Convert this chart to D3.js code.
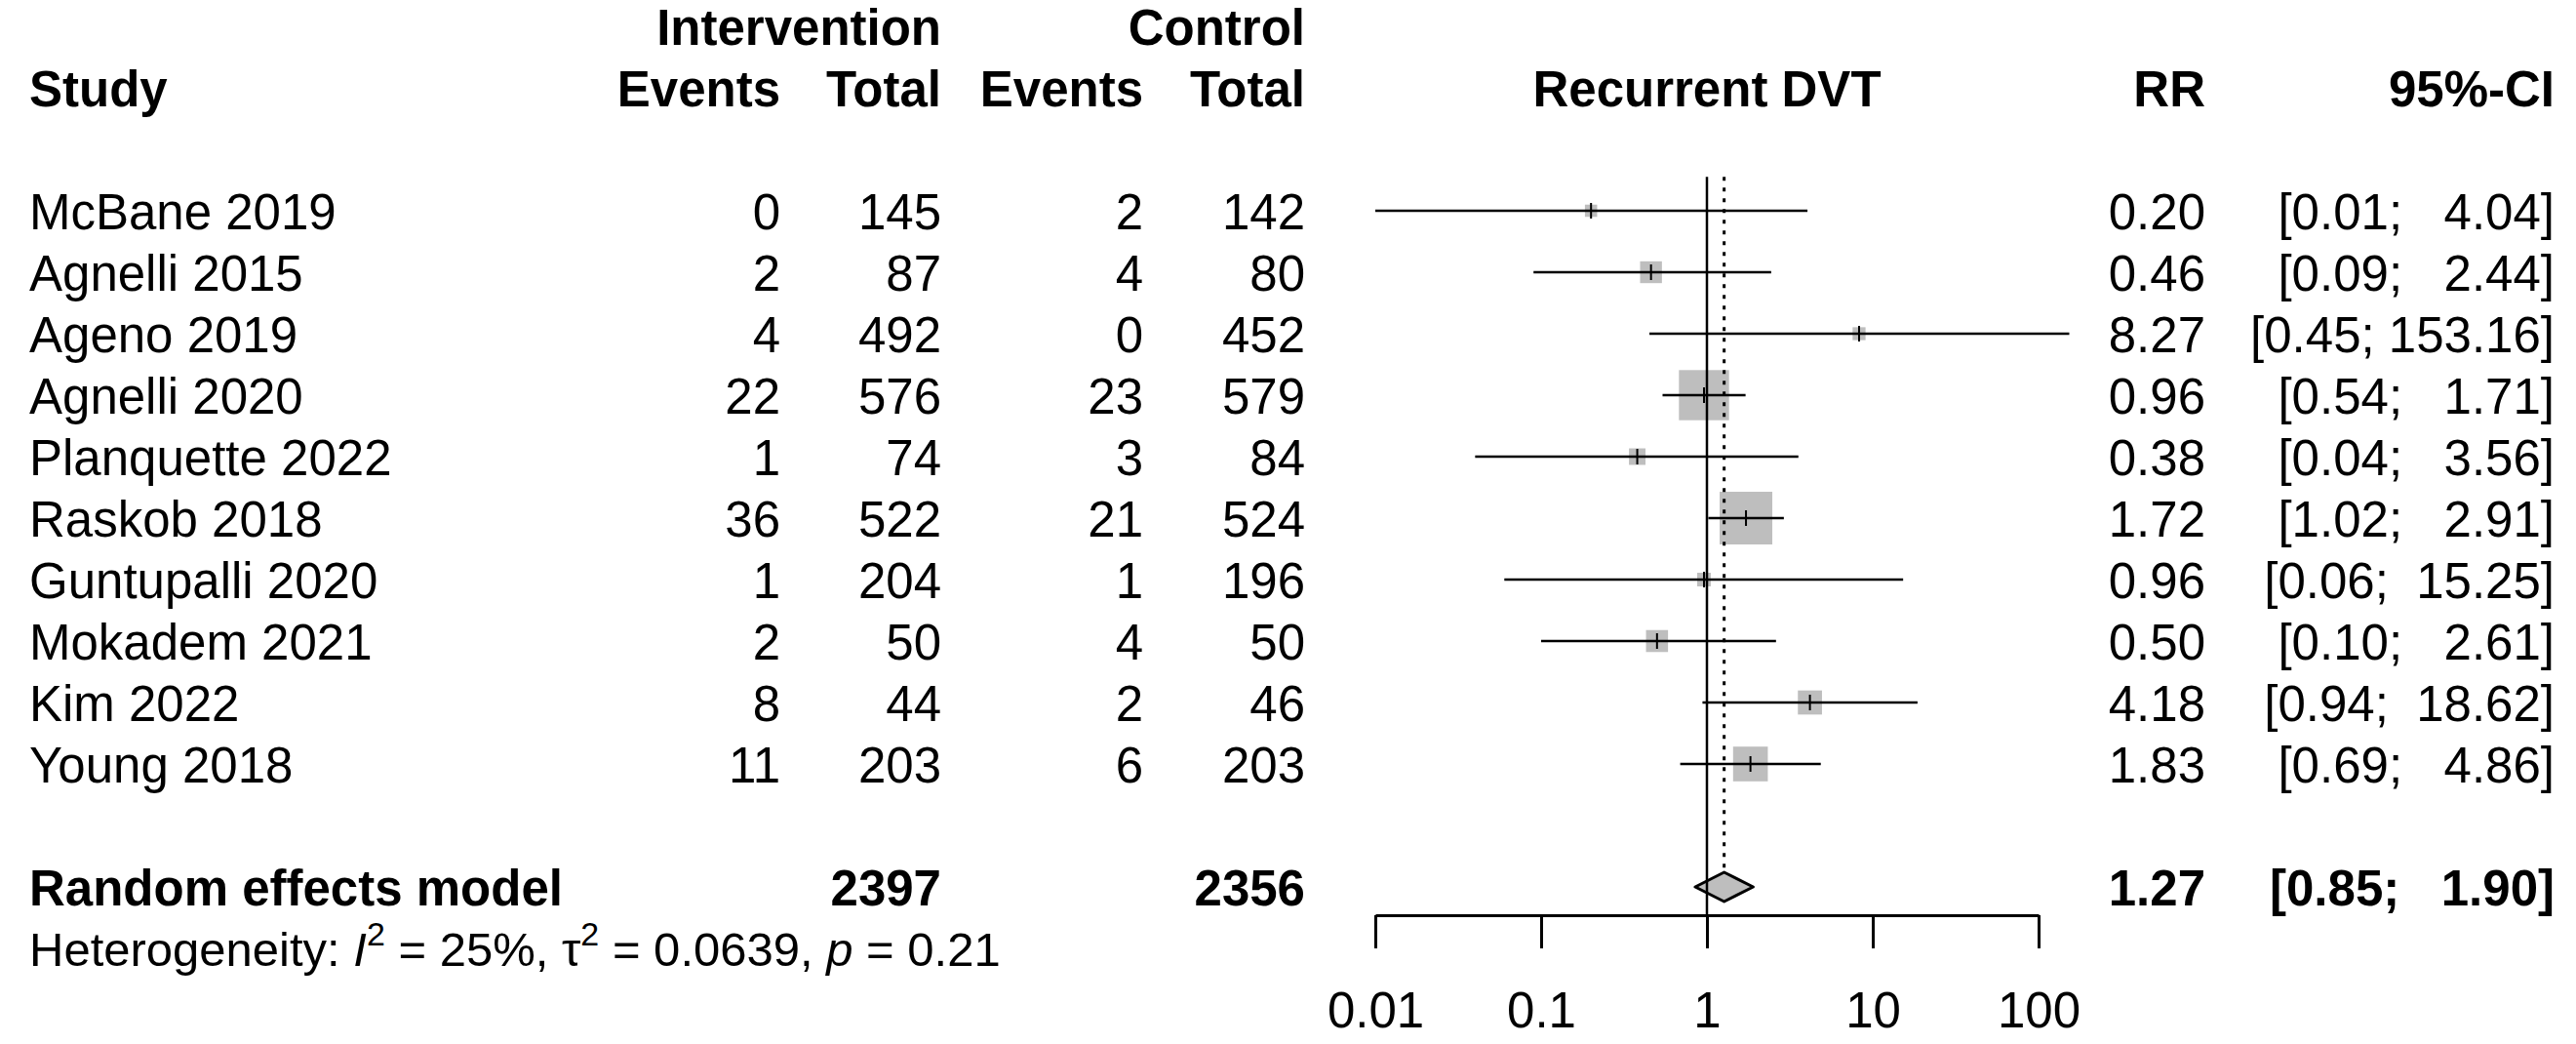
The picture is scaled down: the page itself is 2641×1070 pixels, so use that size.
<!DOCTYPE html>
<html>
<head>
<meta charset="utf-8">
<script src="https://cdnjs.cloudflare.com/ajax/libs/d3/7.8.5/d3.min.js"></script>
<style>
body { margin: 0; background: #fff; }
svg { font-family: "Liberation Sans", Arial, Helvetica, sans-serif; }
text { white-space: pre; fill: #000; }
</style>
</head>
<body>
<svg width="2641" height="1070"></svg>
<script>
// data
var studies = ["McBane 2019", "Agnelli 2015", "Ageno 2019", "Agnelli 2020", "Planquette 2022",
	"Raskob 2018", "Guntupalli 2020", "Mokadem 2021", "Kim 2022", "Young 2018"];
var eventsInt = [0, 2, 4, 22, 1, 36, 1, 2, 8, 11];
var totalInt = [145, 87, 492, 576, 74, 522, 204, 50, 44, 203];
var eventsCtl = [2, 4, 0, 23, 3, 21, 1, 4, 2, 6];
var totalCtl = [142, 80, 452, 579, 84, 524, 196, 50, 46, 203];
var rr = [0.20, 0.46, 8.27, 0.96, 0.38, 1.72, 0.96, 0.50, 4.18, 1.83];
var lower = [0.01, 0.09, 0.45, 0.54, 0.04, 1.02, 0.06, 0.10, 0.94, 0.69];
var upper = [4.04, 2.44, 153.16, 1.71, 3.56, 2.91, 15.25, 2.61, 18.62, 4.86];
// random effects weights (%), estimated from the square sizes
var weights = [1.7, 5.4, 1.9, 28.5, 3.1, 31.5, 2.1, 5.5, 6.6, 13.7];

var pooledTotals = [2397, 2356];
var pooledEstimate = [1.27, 0.85, 1.90]; // RR, lower, upper
var hetI2 = "25%", hetTau2 = "0.0639", hetP = "0.21";

var tickValues = [0.01, 0.1, 1, 10, 100];
var tickLabels = ["0.01", "0.1", "1", "10", "100"];

var svg = d3.select("svg"),
	fontSize = 51,
	axisY = 938;

// log scale for the risk ratios, linear scale for the text rows
var x = d3.scaleLog().domain([0.01, 100]).range([1410, 2090]),
	row = d3.scaleLinear().domain([0, 1]).range([216, 279]),
	size = d3.scaleSqrt().domain([0, d3.max(weights)]).range([0, 54]);

var col = {study: 30, evInt: 800, totInt: 965, evCtl: 1172, totCtl: 1338, rr: 2261, ci: 2619};

var fmt = d3.format(".2f");
var maxLen = d3.max(upper, function(d) { return fmt(d).length; });

function ciText(l, u) {
	return "[" + fmt(l) + ";" + " ".repeat(1 + maxLen - fmt(u).length) + fmt(u) + "]";
}

function label(x0, i, txt, anchor, bold) {
	return svg.append("text")
		.attr("x", x0)
		.attr("y", row(i))
		.attr("dy", "0.37em")
		.attr("text-anchor", anchor || "end")
		.attr("font-size", fontSize)
		.attr("font-weight", bold ? "bold" : "normal")
		.text(txt);
}

// headers
label(col.totInt, -3, "Intervention", "end", true);
label(col.totCtl, -3, "Control", "end", true);
label(col.study, -2, "Study", "start", true);
label(col.evInt, -2, "Events", "end", true);
label(col.totInt, -2, "Total", "end", true);
label(col.evCtl, -2, "Events", "end", true);
label(col.totCtl, -2, "Total", "end", true);
label(x(1), -2, "Recurrent DVT", "middle", true);
label(col.rr, -2, "RR", "end", true);
label(col.ci, -2, "95%-CI", "end", true);

// study rows
studies.forEach(function(s, i) {
	label(col.study, i, s, "start");
	label(col.evInt, i, eventsInt[i]);
	label(col.totInt, i, totalInt[i]);
	label(col.evCtl, i, eventsCtl[i]);
	label(col.totCtl, i, totalCtl[i]);
	label(col.rr, i, fmt(rr[i]));
	label(col.ci, i, ciText(lower[i], upper[i]));
});

// pooled row
label(col.study, 11, "Random effects model", "start", true);
label(col.totInt, 11, pooledTotals[0], "end", true);
label(col.totCtl, 11, pooledTotals[1], "end", true);
label(col.rr, 11, fmt(pooledEstimate[0]), "end", true);
label(col.ci, 11, ciText(pooledEstimate[1], pooledEstimate[2]), "end", true);

// heterogeneity line with italics and superscripts
var het = svg.append("text")
	.attr("x", col.study)
	.attr("y", row(12))
	.attr("dy", "0.37em")
	.attr("font-size", 49);
het.append("tspan").text("Heterogeneity: ");
het.append("tspan").attr("font-style", "italic").text("I");
het.append("tspan").attr("font-size", 34).attr("dy", -21).text("2");
het.append("tspan").attr("dy", 21).text(" = " + hetI2 + ", \u03c4");
het.append("tspan").attr("font-size", 34).attr("dy", -21).text("2");
het.append("tspan").attr("dy", 21).text(" = " + hetTau2 + ", ");
het.append("tspan").attr("font-style", "italic").text("p");
het.append("tspan").text(" = " + hetP);

var plot = svg.append("g");

// squares sized by weight
plot.selectAll(".sq").data(rr).enter().append("rect")
	.attr("class", "sq")
	.attr("x", function(d, i) { return x(d) - size(weights[i]) / 2; })
	.attr("y", function(d, i) { return row(i) - size(weights[i]) / 2; })
	.attr("width", function(d, i) { return size(weights[i]); })
	.attr("height", function(d, i) { return size(weights[i]); })
	.attr("fill", "#bebebe");

// confidence intervals
plot.selectAll(".ci").data(rr).enter().append("line")
	.attr("class", "ci")
	.attr("x1", function(d, i) { return x(lower[i]); })
	.attr("x2", function(d, i) { return x(upper[i]); })
	.attr("y1", function(d, i) { return row(i); })
	.attr("y2", function(d, i) { return row(i); })
	.attr("stroke", "#000")
	.attr("stroke-width", 2.7);

// point estimate mark
plot.selectAll(".pt").data(rr).enter().append("line")
	.attr("class", "pt")
	.attr("x1", function(d) { return x(d); })
	.attr("x2", function(d) { return x(d); })
	.attr("y1", function(d, i) { return row(i) - 8; })
	.attr("y2", function(d, i) { return row(i) + 8; })
	.attr("stroke", "#000")
	.attr("stroke-width", 2);

// pooled diamond
var yd = row(11), hd = 15;
plot.append("polygon")
	.attr("points", [
		[x(pooledEstimate[1]), yd],
		[x(pooledEstimate[0]), yd - hd],
		[x(pooledEstimate[2]), yd],
		[x(pooledEstimate[0]), yd + hd]
	].map(function(p) { return p.join(","); }).join(" "))
	.attr("fill", "#bebebe")
	.attr("stroke", "#000")
	.attr("stroke-width", 3)
	.attr("stroke-linejoin", "round");

// reference line at 1 and dotted line at the pooled estimate
plot.append("line")
	.attr("x1", x(1)).attr("x2", x(1))
	.attr("y1", row(-0.55)).attr("y2", axisY)
	.attr("stroke", "#000")
	.attr("stroke-width", 2.5);

plot.append("line")
	.attr("x1", x(pooledEstimate[0])).attr("x2", x(pooledEstimate[0]))
	.attr("y1", row(-0.55)).attr("y2", yd - hd)
	.attr("stroke", "#000")
	.attr("stroke-width", 3)
	.attr("stroke-dasharray", "4,7");

// x axis
var axis = svg.append("g")
	.attr("transform", "translate(0," + axisY + ")")
	.call(d3.axisBottom(x)
		.tickValues(tickValues)
		.tickFormat(function(d, i) { return tickLabels[i]; })
		.tickSize(34)
		.tickSizeOuter(0)
		.tickPadding(45));

axis.attr("font-family", null).attr("font-size", fontSize);
axis.select(".domain").attr("stroke", "#000").attr("stroke-width", 3);
axis.selectAll(".tick line").attr("stroke", "#000").attr("stroke-width", 3);
axis.selectAll(".tick text").attr("fill", "#000");
</script>
</body>
</html>
